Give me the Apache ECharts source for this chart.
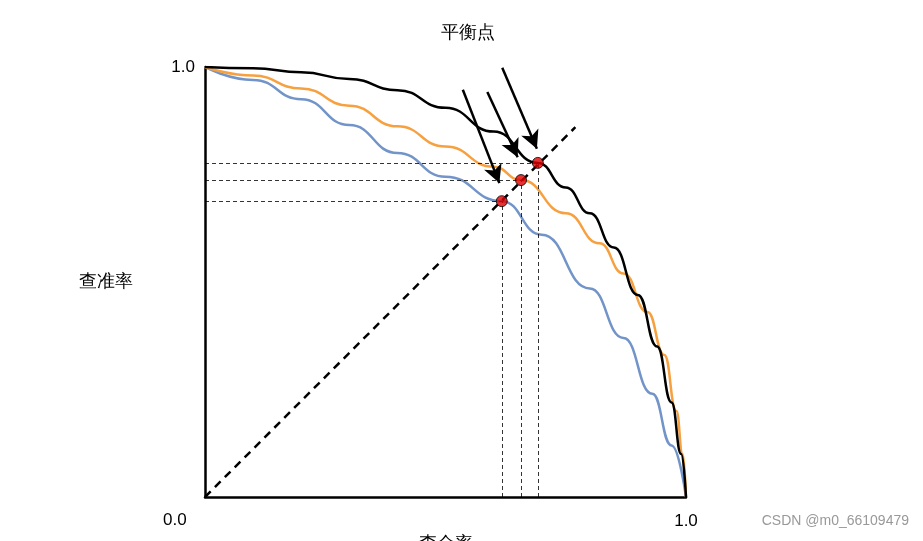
<!DOCTYPE html>
<html><head><meta charset="utf-8">
<script src="https://cdn.jsdelivr.net/npm/echarts@6/dist/echarts.min.js"></script>
<style>html,body{margin:0;background:#fff}#c{width:923px;height:541px}</style>
</head><body><div id="c"></div>
<script>
var blackCurve = [[0,1],[0.1,0.997],[0.2,0.988],[0.3,0.972],[0.4,0.946],[0.5,0.905],[0.6,0.85],[0.692,0.777],[0.75,0.72],[0.8,0.66],[0.85,0.58],[0.9,0.47],[0.94,0.35],[0.97,0.22],[0.99,0.1],[1,0]];
var orangeCurve = [[0,1],[0.1,0.98],[0.2,0.95],[0.3,0.91],[0.4,0.862],[0.5,0.815],[0.6,0.768],[0.657,0.737],[0.75,0.66],[0.82,0.59],[0.87,0.52],[0.92,0.43],[0.955,0.33],[0.98,0.2],[0.993,0.1],[1,0]];
var blueCurve = [[0,1],[0.1,0.97],[0.2,0.925],[0.3,0.865],[0.4,0.8],[0.5,0.745],[0.617,0.688],[0.7,0.61],[0.8,0.485],[0.87,0.37],[0.93,0.24],[0.97,0.12],[1,0]];
var breakEven = [[0.617,0.688],[0.657,0.737],[0.692,0.777]];
var diagonal = [[0,0],[0.77,0.86]];
var arrows = [[[0.536,0.947],[0.612,0.73]],[[0.587,0.942],[0.65,0.79]],[[0.618,0.998],[0.69,0.81]]];

var guides = [];
breakEven.forEach(function (p) {
    guides.push([{coord:[0,p[1]]},{coord:[p[0],p[1]]}]);
    guides.push([{coord:[p[0],0]},{coord:[p[0],p[1]]}]);
});
var arrowLines = arrows.map(function (a) { return [{coord:a[0]},{coord:a[1]}]; });

var chart = echarts.init(document.getElementById('c'));
chart.setOption({
    animation: false,
    grid: {left: 205, right: 237, top: 67, bottom: 44, containLabel:false, outerBoundsMode:'none'},
    xAxis: {type:'value', min:0, max:1, interval:1, splitLine:{show:false},
        axisLine:{lineStyle:{color:'#000', width:2.5}}, axisTick:{show:false},
        axisLabel:{color:'#000', fontSize:17, margin:16, formatter:function(v){return v===1?'1.0':'';}},
        name:'查全率', nameLocation:'middle', nameGap:38, nameTextStyle:{color:'#000', fontSize:18}},
    yAxis: {type:'value', min:0, max:1, interval:1, splitLine:{show:false},
        axisLine:{lineStyle:{color:'#000', width:2.5}}, axisTick:{show:false},
        axisLabel:{color:'#000', fontSize:17, margin:10, formatter:function(v){return v===1?'1.0':'';}},
        name:'查准率', nameLocation:'middle', nameRotate:0, nameGap:72, nameTextStyle:{color:'#000', fontSize:18}},
    graphic: [
        {type:'text', left:163, top:512, style:{text:'0.0', fontSize:17, fill:'#000'}},
        {type:'text', left:441, top:24, style:{text:'平衡点', fontSize:18, fill:'#000'}},
        {type:'text', right:14, top:514, style:{text:'CSDN @m0_66109479', fontSize:14, fill:'#999'}}
    ],
    series: [
        {type:'line', data:blueCurve, smooth:0.5, smoothMonotone:'x', showSymbol:false, lineStyle:{color:'#7294c8', width:2.5}},
        {type:'line', data:orangeCurve, smooth:0.5, smoothMonotone:'x', showSymbol:false, lineStyle:{color:'#f7a040', width:2.5}},
        {type:'line', data:blackCurve, smooth:0.5, smoothMonotone:'x', showSymbol:false, lineStyle:{color:'#000', width:2.5}},
        {type:'line', data:diagonal, showSymbol:false, lineStyle:{color:'#000', width:2.5, type:[8,6]},
            markLine:{silent:true, symbol:['none','none'], label:{show:false},
                lineStyle:{color:'#000', width:0.8, type:[4,3]}, data:guides}},
        {type:'line', data:[], markLine:{silent:true, symbol:['none','arrow'], symbolSize:[14,18], label:{show:false},
                lineStyle:{color:'#000', width:2.5, type:'solid'}, data:arrowLines}},
        {type:'scatter', data:breakEven, symbolSize:11, z:5,
            itemStyle:{color:'#e00000', borderColor:'#000', borderWidth:1}}
    ]
});
</script></body></html>
